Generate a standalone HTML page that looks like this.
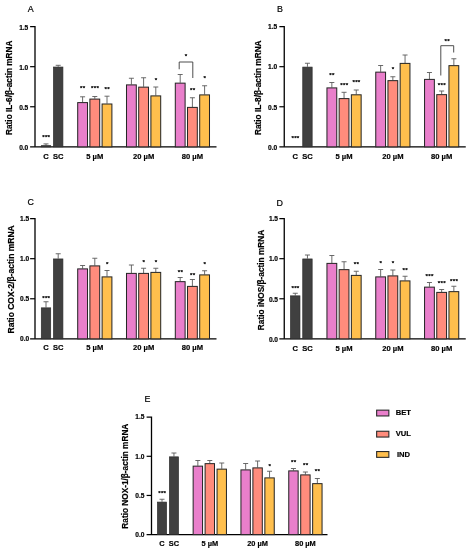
<!DOCTYPE html>
<html lang="en"><head><meta charset="utf-8"><title>Figure</title>
<style>
html,body{margin:0;padding:0;background:#fff;}
body{width:472px;height:550px;overflow:hidden;}
svg{display:block;font-family:'Liberation Sans', Arial, sans-serif;fill:#000;}
.l{stroke:#000;stroke-width:0.2px;}
.s{font-weight:700;stroke:#000;stroke-width:0.22px;stroke-linejoin:round;letter-spacing:0.32px;}
.b{font-weight:700;stroke:#000;stroke-width:0.18px;}
</style></head><body>
<svg width="472" height="550" viewBox="0 0 472 550">
<rect x="0" y="0" width="472" height="550" fill="#ffffff"/>
<g id="panelA">
<path d="M30.10 26.59H35.00V146.85" fill="none" stroke="#000" stroke-width="1.3" stroke-linejoin="miter"/>
<path d="M30.10 146.85H216.50" fill="none" stroke="#000" stroke-width="1.3"/>
<path d="M30.10 106.76H35.00" stroke="#000" stroke-width="1.2"/>
<path d="M30.10 66.68H35.00" stroke="#000" stroke-width="1.2"/>
<text class="b" x="28.30" y="149.85" font-size="6.60" text-anchor="end">0.0</text>
<text class="b" x="28.30" y="109.76" font-size="6.60" text-anchor="end">0.5</text>
<text class="b" x="28.30" y="69.68" font-size="6.60" text-anchor="end">1.0</text>
<text class="b" x="28.30" y="29.59" font-size="6.60" text-anchor="end">1.5</text>
<text class="b" transform="translate(11.50 87.72) rotate(-90)" font-size="8.26" text-anchor="middle">Ratio IL-6/β-actin mRNA</text>
<text x="30.80" y="11.59" font-size="8.9" class="l" text-anchor="middle">A</text>
<path d="M46.00 145.30V143.90M43.50 143.90H48.50" stroke="#5a5a5a" stroke-width="0.9" fill="none"/>
<rect x="41.30" y="145.65" width="9.40" height="1.20" fill="#404040" stroke="#2b2b2b" stroke-width="0.7"/>
<path d="M58.20 66.70V65.30M55.70 65.30H60.70" stroke="#5a5a5a" stroke-width="0.9" fill="none"/>
<rect x="53.50" y="67.05" width="9.40" height="79.80" fill="#404040" stroke="#2b2b2b" stroke-width="0.7"/>
<path d="M82.60 102.20V96.80M80.10 96.80H85.10" stroke="#5a5a5a" stroke-width="0.9" fill="none"/>
<rect x="77.70" y="102.60" width="9.80" height="44.25" fill="#E97FCB" stroke="#262626" stroke-width="1.02"/>
<path d="M94.80 98.70V96.50M92.30 96.50H97.30" stroke="#5a5a5a" stroke-width="0.9" fill="none"/>
<rect x="89.90" y="99.10" width="9.80" height="47.75" fill="#FF8C7C" stroke="#262626" stroke-width="1.02"/>
<path d="M107.00 103.60V96.20M104.50 96.20H109.50" stroke="#5a5a5a" stroke-width="0.9" fill="none"/>
<rect x="102.10" y="104.00" width="9.80" height="42.85" fill="#FFBF4D" stroke="#262626" stroke-width="1.02"/>
<path d="M131.40 84.50V78.25M128.90 78.25H133.90" stroke="#5a5a5a" stroke-width="0.9" fill="none"/>
<rect x="126.50" y="84.90" width="9.80" height="61.95" fill="#E97FCB" stroke="#262626" stroke-width="1.02"/>
<path d="M143.60 86.75V77.75M141.10 77.75H146.10" stroke="#5a5a5a" stroke-width="0.9" fill="none"/>
<rect x="138.70" y="87.15" width="9.80" height="59.70" fill="#FF8C7C" stroke="#262626" stroke-width="1.02"/>
<path d="M155.80 95.50V87.00M153.30 87.00H158.30" stroke="#5a5a5a" stroke-width="0.9" fill="none"/>
<rect x="150.90" y="95.90" width="9.80" height="50.95" fill="#FFBF4D" stroke="#262626" stroke-width="1.02"/>
<path d="M180.20 82.75V74.50M177.70 74.50H182.70" stroke="#5a5a5a" stroke-width="0.9" fill="none"/>
<rect x="175.30" y="83.15" width="9.80" height="63.70" fill="#E97FCB" stroke="#262626" stroke-width="1.02"/>
<path d="M192.40 107.00V97.75M189.90 97.75H194.90" stroke="#5a5a5a" stroke-width="0.9" fill="none"/>
<rect x="187.50" y="107.40" width="9.80" height="39.45" fill="#FF8C7C" stroke="#262626" stroke-width="1.02"/>
<path d="M204.60 94.50V85.75M202.10 85.75H207.10" stroke="#5a5a5a" stroke-width="0.9" fill="none"/>
<rect x="199.70" y="94.90" width="9.80" height="51.95" fill="#FFBF4D" stroke="#262626" stroke-width="1.02"/>
<text x="46.25" y="138.70" font-size="6.2" class="s" text-anchor="middle">***</text>
<text x="82.85" y="90.30" font-size="6.2" class="s" text-anchor="middle">**</text>
<text x="95.05" y="89.50" font-size="6.2" class="s" text-anchor="middle">***</text>
<text x="107.25" y="90.60" font-size="6.2" class="s" text-anchor="middle">**</text>
<text x="156.05" y="81.90" font-size="6.2" class="s" text-anchor="middle">*</text>
<text x="192.65" y="91.60" font-size="6.2" class="s" text-anchor="middle">**</text>
<text x="204.85" y="79.80" font-size="6.2" class="s" text-anchor="middle">*</text>
<path d="M179.20 69.25V62.00H192.80V78.00" stroke="#444" stroke-width="0.95" fill="none"/>
<text x="186.10" y="57.90" font-size="6.2" class="s" text-anchor="middle">*</text>
<text x="46.00" y="158.75" font-size="7.60" class="b" text-anchor="middle">C</text>
<text x="58.20" y="158.75" font-size="7.60" class="b" text-anchor="middle">SC</text>
<text x="94.80" y="158.75" font-size="7.60" class="b" text-anchor="middle">5 µM</text>
<text x="143.60" y="158.75" font-size="7.60" class="b" text-anchor="middle">20 µM</text>
<text x="192.40" y="158.75" font-size="7.60" class="b" text-anchor="middle">80 µM</text>
</g>
<g id="panelB">
<path d="M279.35 26.59H284.25V146.85" fill="none" stroke="#000" stroke-width="1.3" stroke-linejoin="miter"/>
<path d="M279.35 146.85H465.75" fill="none" stroke="#000" stroke-width="1.3"/>
<path d="M279.35 106.76H284.25" stroke="#000" stroke-width="1.2"/>
<path d="M279.35 66.68H284.25" stroke="#000" stroke-width="1.2"/>
<text class="b" x="277.15" y="149.60" font-size="6.60" text-anchor="end">0.0</text>
<text class="b" x="277.15" y="109.51" font-size="6.60" text-anchor="end">0.5</text>
<text class="b" x="277.15" y="69.43" font-size="6.60" text-anchor="end">1.0</text>
<text class="b" x="277.15" y="29.34" font-size="6.60" text-anchor="end">1.5</text>
<text class="b" transform="translate(260.75 87.72) rotate(-90)" font-size="8.28" text-anchor="middle">Ratio IL-8/β-actin mRNA</text>
<text x="280.05" y="11.79" font-size="8.9" class="l" text-anchor="middle">B</text>
<path d="M307.45 66.75V63.25M304.95 63.25H309.95" stroke="#5a5a5a" stroke-width="0.9" fill="none"/>
<rect x="302.75" y="67.10" width="9.40" height="79.75" fill="#404040" stroke="#2b2b2b" stroke-width="0.7"/>
<path d="M331.85 87.50V82.50M329.35 82.50H334.35" stroke="#5a5a5a" stroke-width="0.9" fill="none"/>
<rect x="326.95" y="87.90" width="9.80" height="58.95" fill="#E97FCB" stroke="#262626" stroke-width="1.02"/>
<path d="M344.05 98.20V92.30M341.55 92.30H346.55" stroke="#5a5a5a" stroke-width="0.9" fill="none"/>
<rect x="339.15" y="98.60" width="9.80" height="48.25" fill="#FF8C7C" stroke="#262626" stroke-width="1.02"/>
<path d="M356.25 94.40V90.00M353.75 90.00H358.75" stroke="#5a5a5a" stroke-width="0.9" fill="none"/>
<rect x="351.35" y="94.80" width="9.80" height="52.05" fill="#FFBF4D" stroke="#262626" stroke-width="1.02"/>
<path d="M380.65 71.75V65.50M378.15 65.50H383.15" stroke="#5a5a5a" stroke-width="0.9" fill="none"/>
<rect x="375.75" y="72.15" width="9.80" height="74.70" fill="#E97FCB" stroke="#262626" stroke-width="1.02"/>
<path d="M392.85 80.25V76.75M390.35 76.75H395.35" stroke="#5a5a5a" stroke-width="0.9" fill="none"/>
<rect x="387.95" y="80.65" width="9.80" height="66.20" fill="#FF8C7C" stroke="#262626" stroke-width="1.02"/>
<path d="M405.05 63.00V55.00M402.55 55.00H407.55" stroke="#5a5a5a" stroke-width="0.9" fill="none"/>
<rect x="400.15" y="63.40" width="9.80" height="83.45" fill="#FFBF4D" stroke="#262626" stroke-width="1.02"/>
<path d="M429.45 79.00V72.50M426.95 72.50H431.95" stroke="#5a5a5a" stroke-width="0.9" fill="none"/>
<rect x="424.55" y="79.40" width="9.80" height="67.45" fill="#E97FCB" stroke="#262626" stroke-width="1.02"/>
<path d="M441.65 94.25V91.00M439.15 91.00H444.15" stroke="#5a5a5a" stroke-width="0.9" fill="none"/>
<rect x="436.75" y="94.65" width="9.80" height="52.20" fill="#FF8C7C" stroke="#262626" stroke-width="1.02"/>
<path d="M453.85 65.25V58.75M451.35 58.75H456.35" stroke="#5a5a5a" stroke-width="0.9" fill="none"/>
<rect x="448.95" y="65.65" width="9.80" height="81.20" fill="#FFBF4D" stroke="#262626" stroke-width="1.02"/>
<text x="295.50" y="140.30" font-size="6.2" class="s" text-anchor="middle">***</text>
<text x="332.10" y="77.35" font-size="6.2" class="s" text-anchor="middle">**</text>
<text x="344.30" y="87.35" font-size="6.2" class="s" text-anchor="middle">***</text>
<text x="356.50" y="84.35" font-size="6.2" class="s" text-anchor="middle">***</text>
<text x="393.10" y="71.10" font-size="6.2" class="s" text-anchor="middle">*</text>
<text x="441.90" y="86.60" font-size="6.2" class="s" text-anchor="middle">***</text>
<path d="M440.80 75.50V45.70H453.70V52.50" stroke="#444" stroke-width="0.95" fill="none"/>
<text x="447.35" y="43.30" font-size="6.2" class="s" text-anchor="middle">**</text>
<text x="295.25" y="158.75" font-size="7.60" class="b" text-anchor="middle">C</text>
<text x="307.45" y="158.75" font-size="7.60" class="b" text-anchor="middle">SC</text>
<text x="344.05" y="158.75" font-size="7.60" class="b" text-anchor="middle">5 µM</text>
<text x="392.85" y="158.75" font-size="7.60" class="b" text-anchor="middle">20 µM</text>
<text x="441.65" y="158.75" font-size="7.60" class="b" text-anchor="middle">80 µM</text>
</g>
<g id="panelC">
<path d="M30.10 218.60H35.00V338.85" fill="none" stroke="#000" stroke-width="1.3" stroke-linejoin="miter"/>
<path d="M30.10 338.85H216.50" fill="none" stroke="#000" stroke-width="1.3"/>
<path d="M30.10 298.77H35.00" stroke="#000" stroke-width="1.2"/>
<path d="M30.10 258.68H35.00" stroke="#000" stroke-width="1.2"/>
<text class="b" x="29.20" y="341.30" font-size="6.60" text-anchor="end">0.0</text>
<text class="b" x="29.20" y="301.22" font-size="6.60" text-anchor="end">0.5</text>
<text class="b" x="29.20" y="261.13" font-size="6.60" text-anchor="end">1.0</text>
<text class="b" x="29.20" y="221.05" font-size="6.60" text-anchor="end">1.5</text>
<text class="b" transform="translate(13.60 279.32) rotate(-90)" font-size="8.50" text-anchor="middle">Ratio COX-2/β-actin mRNA</text>
<text x="30.80" y="204.50" font-size="8.9" class="l" text-anchor="middle">C</text>
<path d="M46.00 307.50V301.75M43.50 301.75H48.50" stroke="#5a5a5a" stroke-width="0.9" fill="none"/>
<rect x="41.30" y="307.85" width="9.40" height="31.00" fill="#404040" stroke="#2b2b2b" stroke-width="0.7"/>
<path d="M58.20 258.60V253.75M55.70 253.75H60.70" stroke="#5a5a5a" stroke-width="0.9" fill="none"/>
<rect x="53.50" y="258.95" width="9.40" height="79.90" fill="#404040" stroke="#2b2b2b" stroke-width="0.7"/>
<path d="M82.60 268.50V265.50M80.10 265.50H85.10" stroke="#5a5a5a" stroke-width="0.9" fill="none"/>
<rect x="77.70" y="268.90" width="9.80" height="69.95" fill="#E97FCB" stroke="#262626" stroke-width="1.02"/>
<path d="M94.80 265.50V258.25M92.30 258.25H97.30" stroke="#5a5a5a" stroke-width="0.9" fill="none"/>
<rect x="89.90" y="265.90" width="9.80" height="72.95" fill="#FF8C7C" stroke="#262626" stroke-width="1.02"/>
<path d="M107.00 276.50V270.50M104.50 270.50H109.50" stroke="#5a5a5a" stroke-width="0.9" fill="none"/>
<rect x="102.10" y="276.90" width="9.80" height="61.95" fill="#FFBF4D" stroke="#262626" stroke-width="1.02"/>
<path d="M131.40 273.00V265.00M128.90 265.00H133.90" stroke="#5a5a5a" stroke-width="0.9" fill="none"/>
<rect x="126.50" y="273.40" width="9.80" height="65.45" fill="#E97FCB" stroke="#262626" stroke-width="1.02"/>
<path d="M143.60 273.00V268.25M141.10 268.25H146.10" stroke="#5a5a5a" stroke-width="0.9" fill="none"/>
<rect x="138.70" y="273.40" width="9.80" height="65.45" fill="#FF8C7C" stroke="#262626" stroke-width="1.02"/>
<path d="M155.80 272.00V268.25M153.30 268.25H158.30" stroke="#5a5a5a" stroke-width="0.9" fill="none"/>
<rect x="150.90" y="272.40" width="9.80" height="66.45" fill="#FFBF4D" stroke="#262626" stroke-width="1.02"/>
<path d="M180.20 281.25V277.50M177.70 277.50H182.70" stroke="#5a5a5a" stroke-width="0.9" fill="none"/>
<rect x="175.30" y="281.65" width="9.80" height="57.20" fill="#E97FCB" stroke="#262626" stroke-width="1.02"/>
<path d="M192.40 286.00V279.50M189.90 279.50H194.90" stroke="#5a5a5a" stroke-width="0.9" fill="none"/>
<rect x="187.50" y="286.40" width="9.80" height="52.45" fill="#FF8C7C" stroke="#262626" stroke-width="1.02"/>
<path d="M204.60 274.50V270.75M202.10 270.75H207.10" stroke="#5a5a5a" stroke-width="0.9" fill="none"/>
<rect x="199.70" y="274.90" width="9.80" height="63.95" fill="#FFBF4D" stroke="#262626" stroke-width="1.02"/>
<text x="46.25" y="300.10" font-size="6.2" class="s" text-anchor="middle">***</text>
<text x="107.25" y="266.35" font-size="6.2" class="s" text-anchor="middle">*</text>
<text x="143.85" y="264.35" font-size="6.2" class="s" text-anchor="middle">*</text>
<text x="156.05" y="264.35" font-size="6.2" class="s" text-anchor="middle">*</text>
<text x="180.45" y="273.60" font-size="6.2" class="s" text-anchor="middle">**</text>
<text x="192.65" y="276.85" font-size="6.2" class="s" text-anchor="middle">**</text>
<text x="204.85" y="266.35" font-size="6.2" class="s" text-anchor="middle">*</text>
<text x="46.00" y="350.25" font-size="7.60" class="b" text-anchor="middle">C</text>
<text x="58.20" y="350.25" font-size="7.60" class="b" text-anchor="middle">SC</text>
<text x="94.80" y="350.25" font-size="7.60" class="b" text-anchor="middle">5 µM</text>
<text x="143.60" y="350.25" font-size="7.60" class="b" text-anchor="middle">20 µM</text>
<text x="192.40" y="350.25" font-size="7.60" class="b" text-anchor="middle">80 µM</text>
</g>
<g id="panelD">
<path d="M279.35 218.60H284.25V338.85" fill="none" stroke="#000" stroke-width="1.3" stroke-linejoin="miter"/>
<path d="M279.35 338.85H465.75" fill="none" stroke="#000" stroke-width="1.3"/>
<path d="M279.35 298.77H284.25" stroke="#000" stroke-width="1.2"/>
<path d="M279.35 258.68H284.25" stroke="#000" stroke-width="1.2"/>
<text class="b" x="278.05" y="341.60" font-size="6.60" text-anchor="end">0.0</text>
<text class="b" x="278.05" y="301.52" font-size="6.60" text-anchor="end">0.5</text>
<text class="b" x="278.05" y="261.43" font-size="6.60" text-anchor="end">1.0</text>
<text class="b" x="278.05" y="221.35" font-size="6.60" text-anchor="end">1.5</text>
<text class="b" transform="translate(263.75 279.92) rotate(-90)" font-size="8.30" text-anchor="middle">Ratio iNOS/β-actin mRNA</text>
<text x="279.65" y="206.00" font-size="8.9" class="l" text-anchor="middle">D</text>
<path d="M295.25 295.50V293.25M292.75 293.25H297.75" stroke="#5a5a5a" stroke-width="0.9" fill="none"/>
<rect x="290.55" y="295.85" width="9.40" height="43.00" fill="#404040" stroke="#2b2b2b" stroke-width="0.7"/>
<path d="M307.45 258.60V255.00M304.95 255.00H309.95" stroke="#5a5a5a" stroke-width="0.9" fill="none"/>
<rect x="302.75" y="258.95" width="9.40" height="79.90" fill="#404040" stroke="#2b2b2b" stroke-width="0.7"/>
<path d="M331.85 263.00V255.50M329.35 255.50H334.35" stroke="#5a5a5a" stroke-width="0.9" fill="none"/>
<rect x="326.95" y="263.40" width="9.80" height="75.45" fill="#E97FCB" stroke="#262626" stroke-width="1.02"/>
<path d="M344.05 269.25V261.75M341.55 261.75H346.55" stroke="#5a5a5a" stroke-width="0.9" fill="none"/>
<rect x="339.15" y="269.65" width="9.80" height="69.20" fill="#FF8C7C" stroke="#262626" stroke-width="1.02"/>
<path d="M356.25 275.00V271.25M353.75 271.25H358.75" stroke="#5a5a5a" stroke-width="0.9" fill="none"/>
<rect x="351.35" y="275.40" width="9.80" height="63.45" fill="#FFBF4D" stroke="#262626" stroke-width="1.02"/>
<path d="M380.65 276.50V269.50M378.15 269.50H383.15" stroke="#5a5a5a" stroke-width="0.9" fill="none"/>
<rect x="375.75" y="276.90" width="9.80" height="61.95" fill="#E97FCB" stroke="#262626" stroke-width="1.02"/>
<path d="M392.85 275.50V270.00M390.35 270.00H395.35" stroke="#5a5a5a" stroke-width="0.9" fill="none"/>
<rect x="387.95" y="275.90" width="9.80" height="62.95" fill="#FF8C7C" stroke="#262626" stroke-width="1.02"/>
<path d="M405.05 280.50V276.25M402.55 276.25H407.55" stroke="#5a5a5a" stroke-width="0.9" fill="none"/>
<rect x="400.15" y="280.90" width="9.80" height="57.95" fill="#FFBF4D" stroke="#262626" stroke-width="1.02"/>
<path d="M429.45 286.75V282.50M426.95 282.50H431.95" stroke="#5a5a5a" stroke-width="0.9" fill="none"/>
<rect x="424.55" y="287.15" width="9.80" height="51.70" fill="#E97FCB" stroke="#262626" stroke-width="1.02"/>
<path d="M441.65 292.00V289.50M439.15 289.50H444.15" stroke="#5a5a5a" stroke-width="0.9" fill="none"/>
<rect x="436.75" y="292.40" width="9.80" height="46.45" fill="#FF8C7C" stroke="#262626" stroke-width="1.02"/>
<path d="M453.85 291.25V286.25M451.35 286.25H456.35" stroke="#5a5a5a" stroke-width="0.9" fill="none"/>
<rect x="448.95" y="291.65" width="9.80" height="47.20" fill="#FFBF4D" stroke="#262626" stroke-width="1.02"/>
<text x="295.50" y="289.70" font-size="6.2" class="s" text-anchor="middle">***</text>
<text x="356.50" y="266.00" font-size="6.2" class="s" text-anchor="middle">**</text>
<text x="380.90" y="265.10" font-size="6.2" class="s" text-anchor="middle">*</text>
<text x="393.10" y="265.10" font-size="6.2" class="s" text-anchor="middle">*</text>
<text x="405.30" y="271.90" font-size="6.2" class="s" text-anchor="middle">**</text>
<text x="429.70" y="277.90" font-size="6.2" class="s" text-anchor="middle">***</text>
<text x="441.90" y="285.10" font-size="6.2" class="s" text-anchor="middle">***</text>
<text x="454.10" y="283.10" font-size="6.2" class="s" text-anchor="middle">***</text>
<text x="295.25" y="350.75" font-size="7.60" class="b" text-anchor="middle">C</text>
<text x="307.45" y="350.75" font-size="7.60" class="b" text-anchor="middle">SC</text>
<text x="344.05" y="350.75" font-size="7.60" class="b" text-anchor="middle">5 µM</text>
<text x="392.85" y="350.75" font-size="7.60" class="b" text-anchor="middle">20 µM</text>
<text x="441.65" y="350.75" font-size="7.60" class="b" text-anchor="middle">80 µM</text>
</g>
<g id="panelE">
<path d="M146.60 417.15H151.50V534.60" fill="none" stroke="#000" stroke-width="1.3" stroke-linejoin="miter"/>
<path d="M146.60 534.60H327.50" fill="none" stroke="#000" stroke-width="1.3"/>
<path d="M146.60 495.45H151.50" stroke="#000" stroke-width="1.2"/>
<path d="M146.60 456.30H151.50" stroke="#000" stroke-width="1.2"/>
<text class="b" x="144.50" y="536.90" font-size="6.60" text-anchor="end">0.0</text>
<text class="b" x="144.50" y="497.75" font-size="6.60" text-anchor="end">0.5</text>
<text class="b" x="144.50" y="458.60" font-size="6.60" text-anchor="end">1.0</text>
<text class="b" x="144.50" y="419.45" font-size="6.60" text-anchor="end">1.5</text>
<text class="b" transform="translate(128.10 476.18) rotate(-90)" font-size="8.25" text-anchor="middle">Ratio NOX-1/β-actin mRNA</text>
<text x="147.40" y="402.00" font-size="8.9" class="l" text-anchor="middle">E</text>
<path d="M162.00 501.75V499.25M159.50 499.25H164.50" stroke="#5a5a5a" stroke-width="0.9" fill="none"/>
<rect x="157.50" y="502.10" width="9.00" height="32.50" fill="#404040" stroke="#2b2b2b" stroke-width="0.7"/>
<path d="M173.95 456.50V453.00M171.45 453.00H176.45" stroke="#5a5a5a" stroke-width="0.9" fill="none"/>
<rect x="169.45" y="456.85" width="9.00" height="77.75" fill="#404040" stroke="#2b2b2b" stroke-width="0.7"/>
<path d="M197.85 465.75V460.50M195.35 460.50H200.35" stroke="#5a5a5a" stroke-width="0.9" fill="none"/>
<rect x="193.15" y="466.15" width="9.40" height="68.45" fill="#E97FCB" stroke="#262626" stroke-width="1.02"/>
<path d="M209.80 463.25V460.50M207.30 460.50H212.30" stroke="#5a5a5a" stroke-width="0.9" fill="none"/>
<rect x="205.10" y="463.65" width="9.40" height="70.95" fill="#FF8C7C" stroke="#262626" stroke-width="1.02"/>
<path d="M221.75 468.75V463.00M219.25 463.00H224.25" stroke="#5a5a5a" stroke-width="0.9" fill="none"/>
<rect x="217.05" y="469.15" width="9.40" height="65.45" fill="#FFBF4D" stroke="#262626" stroke-width="1.02"/>
<path d="M245.65 469.50V463.50M243.15 463.50H248.15" stroke="#5a5a5a" stroke-width="0.9" fill="none"/>
<rect x="240.95" y="469.90" width="9.40" height="64.70" fill="#E97FCB" stroke="#262626" stroke-width="1.02"/>
<path d="M257.60 467.50V461.00M255.10 461.00H260.10" stroke="#5a5a5a" stroke-width="0.9" fill="none"/>
<rect x="252.90" y="467.90" width="9.40" height="66.70" fill="#FF8C7C" stroke="#262626" stroke-width="1.02"/>
<path d="M269.55 477.50V471.25M267.05 471.25H272.05" stroke="#5a5a5a" stroke-width="0.9" fill="none"/>
<rect x="264.85" y="477.90" width="9.40" height="56.70" fill="#FFBF4D" stroke="#262626" stroke-width="1.02"/>
<path d="M293.45 470.50V468.50M290.95 468.50H295.95" stroke="#5a5a5a" stroke-width="0.9" fill="none"/>
<rect x="288.75" y="470.90" width="9.40" height="63.70" fill="#E97FCB" stroke="#262626" stroke-width="1.02"/>
<path d="M305.40 474.50V472.00M302.90 472.00H307.90" stroke="#5a5a5a" stroke-width="0.9" fill="none"/>
<rect x="300.70" y="474.90" width="9.40" height="59.70" fill="#FF8C7C" stroke="#262626" stroke-width="1.02"/>
<path d="M317.35 483.25V478.50M314.85 478.50H319.85" stroke="#5a5a5a" stroke-width="0.9" fill="none"/>
<rect x="312.65" y="483.65" width="9.40" height="50.95" fill="#FFBF4D" stroke="#262626" stroke-width="1.02"/>
<text x="162.25" y="495.10" font-size="6.2" class="s" text-anchor="middle">***</text>
<text x="269.80" y="468.10" font-size="6.2" class="s" text-anchor="middle">*</text>
<text x="293.70" y="464.10" font-size="6.2" class="s" text-anchor="middle">**</text>
<text x="305.65" y="467.35" font-size="6.2" class="s" text-anchor="middle">**</text>
<text x="317.60" y="473.10" font-size="6.2" class="s" text-anchor="middle">**</text>
<text x="162.00" y="546.20" font-size="7.41" class="b" text-anchor="middle">C</text>
<text x="173.95" y="546.20" font-size="7.41" class="b" text-anchor="middle">SC</text>
<text x="209.80" y="546.20" font-size="7.41" class="b" text-anchor="middle">5 µM</text>
<text x="257.60" y="546.20" font-size="7.41" class="b" text-anchor="middle">20 µM</text>
<text x="305.40" y="546.20" font-size="7.41" class="b" text-anchor="middle">80 µM</text>
</g>
<g id="legend">
<rect x="376.65" y="410.15" width="12.2" height="5.8" fill="#E97FCB" stroke="#2a2a2a" stroke-width="1.1"/>
<text x="395.8" y="415.20" font-size="7.6" class="b">BET</text>
<rect x="376.65" y="431.25" width="12.2" height="5.8" fill="#FF8C7C" stroke="#2a2a2a" stroke-width="1.1"/>
<text x="395.8" y="436.30" font-size="7.6" class="b">VUL</text>
<rect x="376.65" y="451.55" width="12.2" height="5.8" fill="#FFBF4D" stroke="#2a2a2a" stroke-width="1.1"/>
<text x="396.9" y="456.60" font-size="7.6" class="b">IND</text>
</g>
</svg>
</body></html>
